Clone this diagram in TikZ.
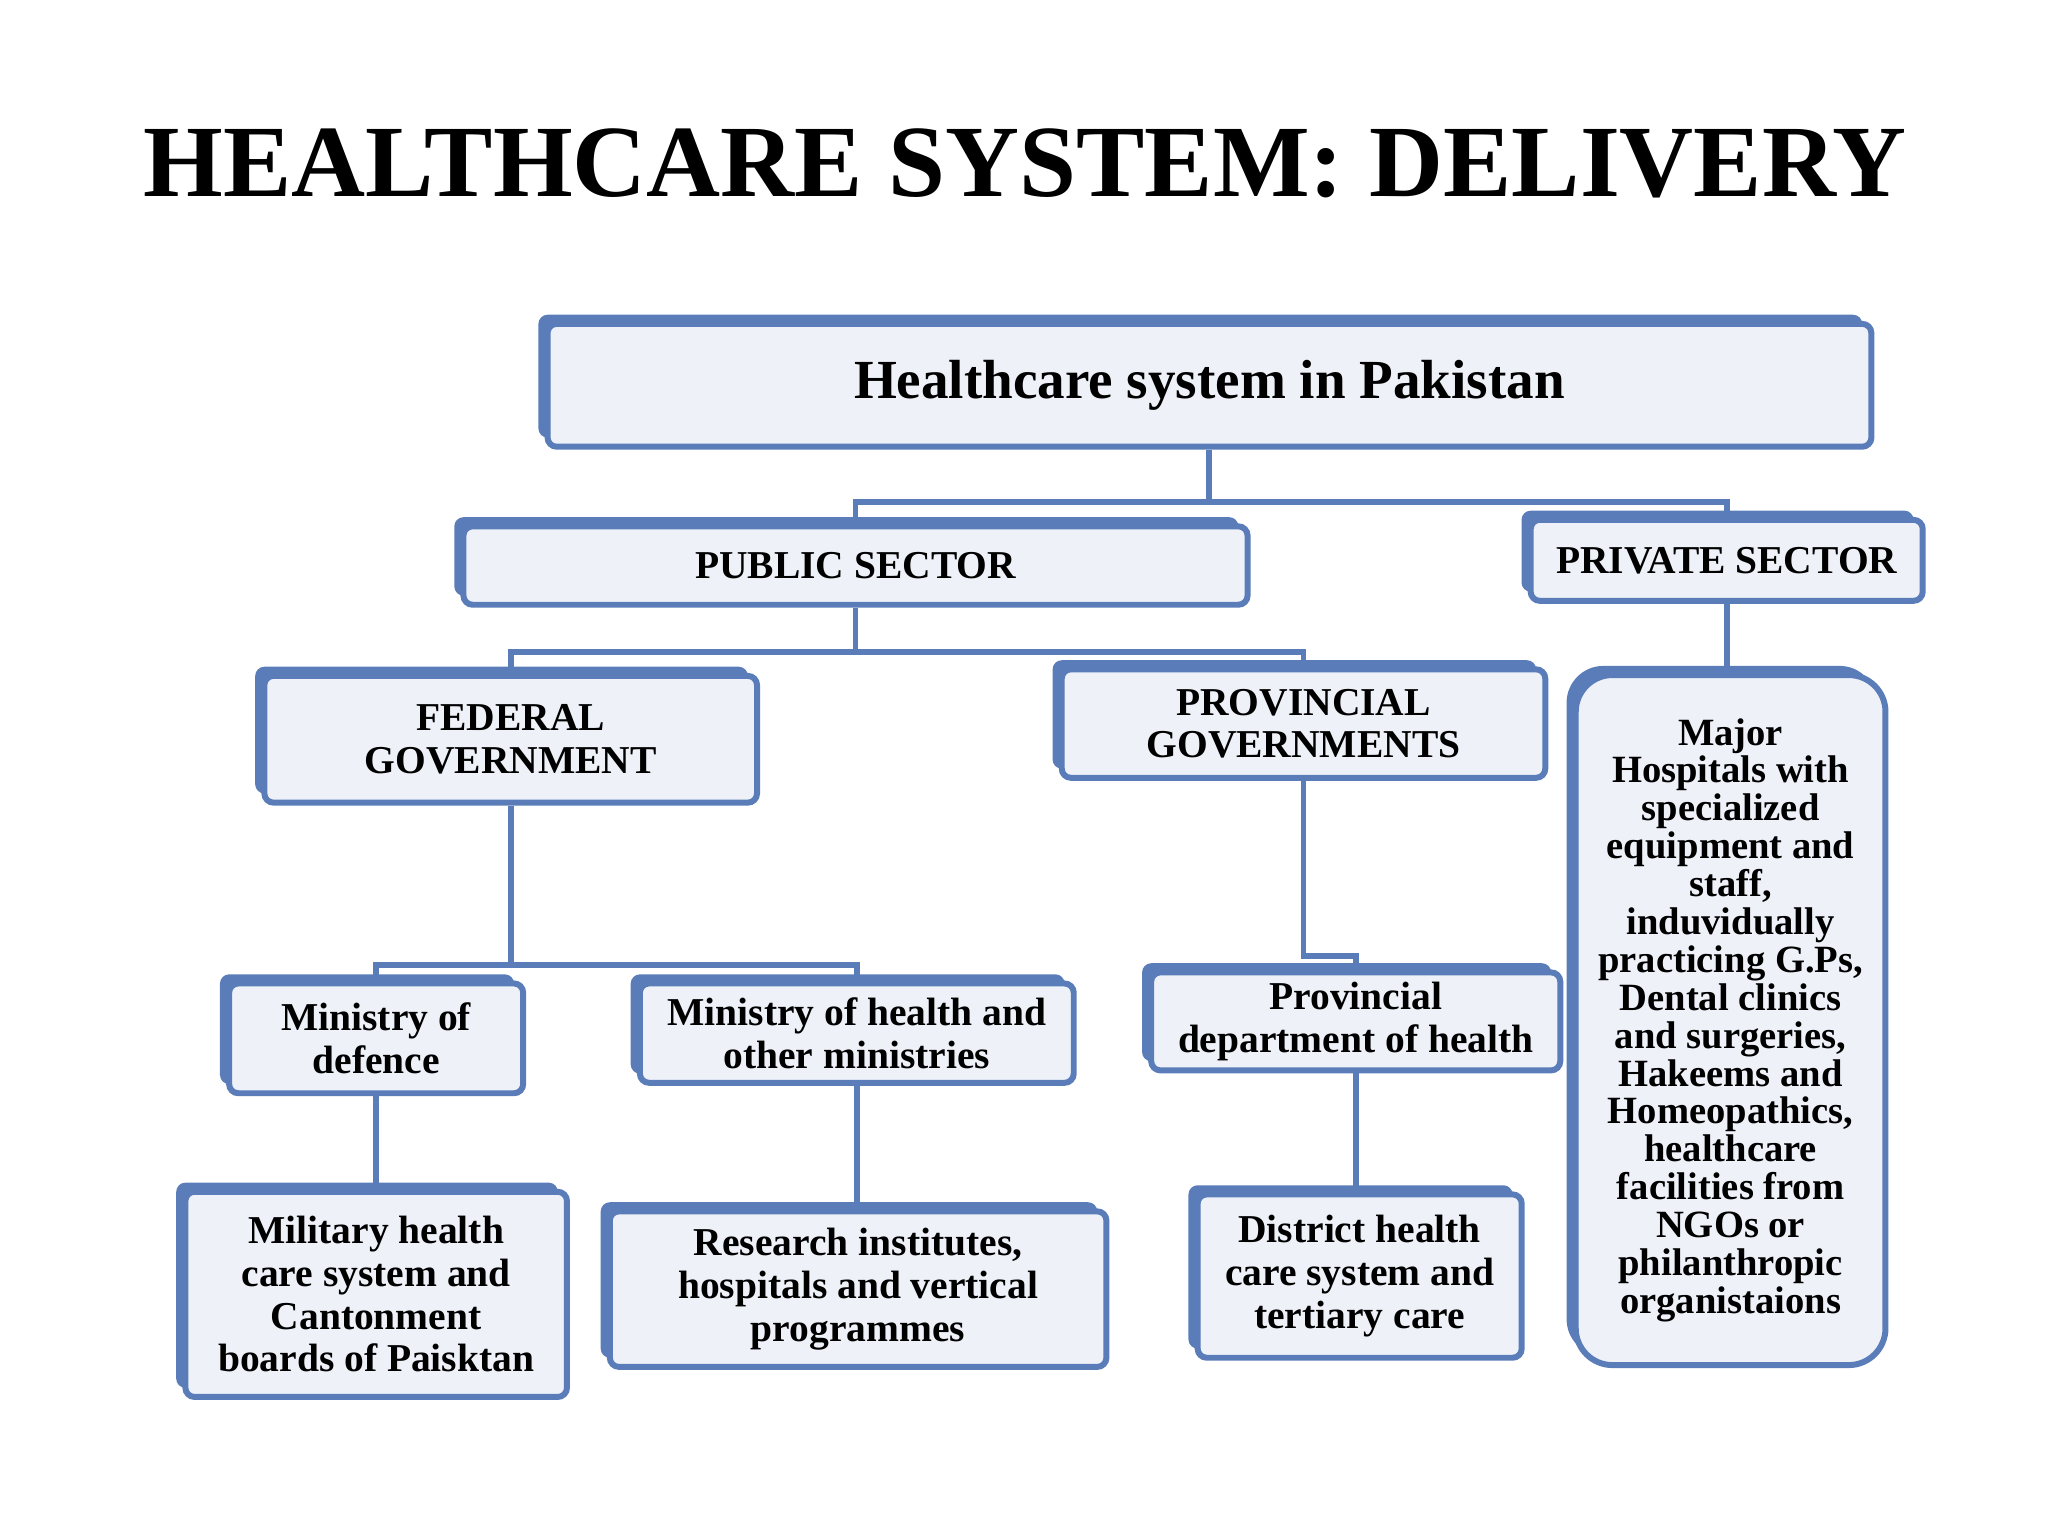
\documentclass[tikz,border=0pt]{standalone}
\usepackage{fontspec}
\setmainfont{Liberation Serif}
\usetikzlibrary{shadows}
\definecolor{bb}{HTML}{5A7DB9}
\definecolor{bf}{HTML}{EEF1F8}
\begin{document}
\begin{tikzpicture}[x=0.01cm,y=-0.01cm,
  bx/.style={draw=bb,line width=1.3pt,fill=bf,rounded corners=2pt,align=center,
    font=\bfseries\fontsize{8.6}{9.3}\selectfont,inner sep=1pt,
    general shadow={shadow xshift=-0.07cm,shadow yshift=0.07cm,fill=bb,rounded corners=2pt}},
  ln/.style={draw=bb,line width=1.3pt}]
\fill[white] (0,0) rectangle (1568,1176);
\node (title) at (785,125) {\bfseries\fontsize{22.3}{26}\selectfont HEALTHCARE SYSTEM: DELIVERY};
\node[bx,minimum width=10.13cm,minimum height=0.94cm,font=\bfseries\fontsize{12}{14}\selectfont] (main) at (926,295) {Healthcare system in Pakistan};
\node[bx,minimum width=6cm,minimum height=0.6cm] (pub) at (655,433) {PUBLIC SECTOR};
\node[bx,minimum width=3cm,minimum height=0.62cm] (priv) at (1322,429) {PRIVATE SECTOR};
\node[bx,minimum width=3.77cm,minimum height=0.97cm] (fed) at (391,566) {FEDERAL\\GOVERNMENT};
\node[bx,minimum width=3.7cm,minimum height=0.83cm] (prov) at (998,554) {PROVINCIAL\\GOVERNMENTS};
\node[bx,minimum width=2.25cm,minimum height=0.84cm] (mod) at (288,795) {Ministry of\\defence};
\node[bx,minimum width=3.32cm,minimum height=0.76cm] (moh) at (656,791) {Ministry of health and\\other ministries};
\node[bx,minimum width=3.13cm,minimum height=0.75cm] (pdh) at (1038,782) {Provincial\\department of health};
\node[bx,minimum width=2.92cm,minimum height=1.57cm] (mil) at (288,991) {Military health\\care system and\\Cantonment\\boards of Paisktan};
\node[bx,minimum width=3.8cm,minimum height=1.19cm] (res) at (657,987) {Research institutes,\\hospitals and vertical\\programmes};
\node[bx,minimum width=2.48cm,minimum height=1.25cm] (dis) at (1041,977) {District health\\care system and\\tertiary care};
\node[bx,minimum width=2.37cm,minimum height=5.28cm,rounded corners=8pt,font=\bfseries\fontsize{8.4}{8.25}\selectfont] (maj) at (1325,781) {Major\\Hospitals with\\specialized\\equipment and\\staff,\\induvidually\\practicing G.Ps,\\Dental clinics\\and surgeries,\\Hakeems and\\Homeopathics,\\healthcare\\facilities from\\NGOs or\\philanthropic\\organistaions};
\draw[ln] (main.south) -- ++(0,40) coordinate (j1);
\draw[ln] (pub.north) |- (j1) -| (priv.north);
\draw[ln] (pub.south) -- ++(0,34) coordinate (j2);
\draw[ln] (fed.north) |- (j2) -| (prov.north);
\draw[ln] (fed.south) -- ++(0,122) coordinate (j3);
\draw[ln] (mod.north) |- (j3) -| (moh.north);
\draw[ln] (prov.south) |- ++(0,134) -| (pdh.north);
\draw[ln] (mod.south) -- (mil.north -| mod.south);
\draw[ln] (moh.south) -- (res.north -| moh.south);
\draw[ln] (pdh.south) -- (dis.north -| pdh.south);
\draw[ln] (priv.south) -- (maj.north -| priv.south);
\end{tikzpicture}
\end{document}
